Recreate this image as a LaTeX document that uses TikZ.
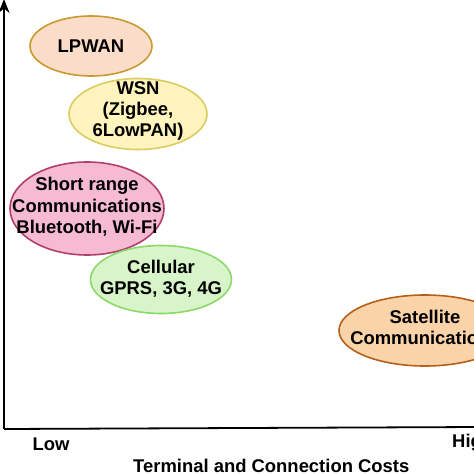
\documentclass[tikz,border=0pt]{standalone}
\usepackage{fontspec}
\setmainfont{Liberation Sans}
\usetikzlibrary{arrows.meta}
\definecolor{lpfill}{HTML}{FBDCC8}
\definecolor{lpdraw}{HTML}{C99A2E}
\definecolor{wsfill}{HTML}{FFF4BE}
\definecolor{wsdraw}{HTML}{D9CC60}
\definecolor{srfill}{HTML}{F6BAD2}
\definecolor{srdraw}{HTML}{B0406A}
\definecolor{cefill}{HTML}{D8F5CA}
\definecolor{cedraw}{HTML}{8DD86A}
\definecolor{safill}{HTML}{FBD3A8}
\definecolor{sadraw}{HTML}{B4601A}
\tikzset{
  blobtext/.style={inner sep=0pt, align=center,
    font=\fontsize{18.5}{21.5}\selectfont\bfseries},
  blobline/.style={line width=1.6pt},
  axislabel/.style={inner sep=0pt, font=\fontsize{18.5}{22}\selectfont\bfseries},
  axisline/.style={line width=1.8pt, black}
}
\begin{document}
\begin{tikzpicture}[x=1bp,y=-1bp]
\useasboundingbox (0,0) rectangle (474,474);
\fill[white] (0,0) rectangle (474,474);
% axes
\coordinate (origin) at (4,429);
\coordinate (ytop) at (4,-1);
\coordinate (xend) at (480,427);
\draw[axisline, -{Stealth[length=14bp,width=11bp]}] (origin) -- (ytop);
\draw[axisline] (origin) -- (xend);
% centres
\coordinate (lpc) at (91,46);
\coordinate (wsc) at (138,114);
\coordinate (src) at (87,208.5);
\coordinate (cec) at (161,279.5);
\coordinate (sac) at (425,330.5);
% ellipses
\filldraw[blobline, draw=lpdraw, fill=lpfill] (lpc) ellipse [x radius=61, y radius=30];
\filldraw[blobline, draw=wsdraw, fill=wsfill] (wsc) ellipse [x radius=69, y radius=35.5];
\filldraw[blobline, draw=srdraw, fill=srfill] (src) ellipse [x radius=77, y radius=46.5];
\filldraw[blobline, draw=cedraw, fill=cefill] (cec) ellipse [x radius=70.5, y radius=34];
\filldraw[blobline, draw=sadraw, fill=safill] (sac) ellipse [x radius=86, y radius=35.5];
% texts
\node[blobtext] (lpwan) at (lpc) {LPWAN};
\node[blobtext] (wsn) at ([yshift=3bp]wsc) {WSN\\(Zigbee,\\6LowPAN)};
\node[blobtext] (sr) at ([yshift=1.5bp]src) {Short range\\Communications\\Bluetooth, Wi-Fi};
\node[blobtext] (cell) at ([yshift=1bp]cec) {Cellular\\GPRS, 3G, 4G};
\node[blobtext] (sat) at ([yshift=3bp]sac) {Satellite\\Communications};
% labels
\node[axislabel] (low) at (51,444) {Low};
\node[axislabel, anchor=west] (high) at (452,443) {High};
\node[axislabel, anchor=west] (xlabel) at (133,466) {Terminal and Connection Costs};
\end{tikzpicture}
\end{document}
